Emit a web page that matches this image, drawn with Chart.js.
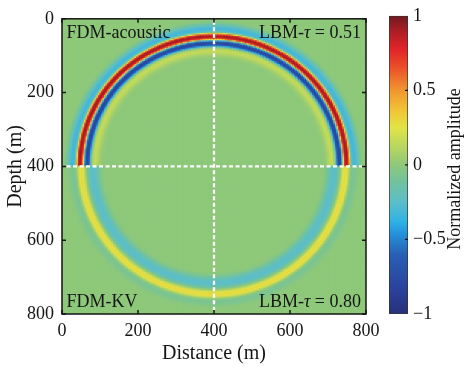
<!DOCTYPE html>
<html><head><meta charset="utf-8">
<script src="https://cdn.jsdelivr.net/npm/chart.js@4.4.1/dist/chart.umd.min.js"></script>
<style>
html,body{margin:0;padding:0;background:#fff;}
#wrap{position:relative;width:474px;height:366px;}
canvas{position:absolute;left:0;top:0;}
</style></head><body>
<div id="wrap"><canvas id="main" width="474" height="366"></canvas><canvas id="cbar" width="474" height="366"></canvas></div>
<script>
// ---- data ----
const xTicks = [0, 200, 400, 600, 800];
const yTicks = [0, 200, 400, 600, 800];
const cbTicks = [-1, -0.5, 0, 0.5, 1];
const sourceX = 400;      // m
const sourceDepth = 400;  // m
const ringRadius = [288,292,296,300,304,308,312,316,320,324,328,332,336,340,344,348,352,356,360,364,368,372,376,380,384,388,392,396];
// upper half: FDM-acoustic / LBM-tau=0.51
const ampUpper   = [0,0.01,0.03,0.06,0.10,0.14,0.16,0.12,0.00,-0.35,-0.70,-0.80,-0.72,-0.20,0.62,0.88,0.92,0.75,0.15,-0.24,-0.32,-0.32,-0.28,-0.20,-0.12,-0.06,-0.02,0];
// lower half: FDM-KV / LBM-tau=0.80
const ampLower   = [0,-0.02,-0.05,-0.09,-0.14,-0.19,-0.23,-0.25,-0.25,-0.22,-0.15,-0.06,0.05,0.17,0.27,0.30,0.25,0.13,0.01,-0.06,-0.08,-0.07,-0.05,-0.03,-0.01,0,0,0];
const vLine = [{x:400, y:5}, {x:400, y:790}];
const hLine = [{x:12, y:400}, {x:790, y:400}];
const panelLabels = ['FDM-acoustic', 'LBM-τ = 0.51', 'FDM-KV', 'LBM-τ = 0.80'];
const cellSize = 4; // m

// ---- colour map ----
const cmapValues = [-1,-0.8,-0.6,-0.45,-0.38,-0.25,-0.12,0,0.12,0.25,0.35,0.5,0.65,0.78,0.9,1];
const cmapColors = ['#28307a','#2a46a0','#2860b4','#2496dc','#30b2e6','#5cbec8','#70c2a0','#8ec87a','#b8d660','#e2e446','#f0c838','#f09630','#ec5028','#e02428','#aa1e24','#6e1a20'];
const hex = h => [parseInt(h.slice(1,3),16), parseInt(h.slice(3,5),16), parseInt(h.slice(5,7),16)];
const cmapRGB = cmapColors.map(hex);
function colorFor(v){
  v = Math.max(-1, Math.min(1, v));
  let i = 0;
  while (i < cmapValues.length - 2 && v > cmapValues[i+1]) i++;
  const t = (v - cmapValues[i]) / (cmapValues[i+1] - cmapValues[i]);
  const a = cmapRGB[i], b = cmapRGB[i+1];
  return 'rgb(' + [0,1,2].map(k => Math.round(a[k] + (b[k]-a[k]) * t)).join(',') + ')';
}
function profileAt(prof, r){
  if (r <= ringRadius[0] || r >= ringRadius[ringRadius.length-1]) return 0;
  let i = 0;
  while (ringRadius[i+1] < r) i++;
  const t = (r - ringRadius[i]) / (ringRadius[i+1] - ringRadius[i]);
  return prof[i] + (prof[i+1] - prof[i]) * t;
}

// build cell table from the radial profiles
const cells = [], cellColors = [];
const colorCache = {};
for (let xv = cellSize/2; xv < 800; xv += cellSize){
  for (let yv = cellSize/2; yv < 800; yv += cellSize){
    const r = Math.hypot(xv - sourceX, yv - sourceDepth);
    const v = profileAt(yv < sourceDepth ? ampUpper : ampLower, r);
    const key = Math.round(v * 200);
    if (!(key in colorCache)) colorCache[key] = colorFor(key / 200);
    cells.push({x: xv, y: yv});
    cellColors.push(colorCache[key]);
  }
}

const FONT = "'Liberation Serif', 'Times New Roman', serif";
const INK = '#151515';

function drawRich(ctx, text, x, y, align){
  const parts = text.split(/(τ)/).filter(s => s.length);
  const fonts = parts.map(p => (p === 'τ' ? 'italic ' : '') + '18px ' + FONT);
  let total = 0;
  const widths = parts.map((p, i) => { ctx.font = fonts[i]; const w = ctx.measureText(p).width; total += w; return w; });
  let cx = align === 'right' ? x - total : x;
  ctx.textAlign = 'left'; ctx.textBaseline = 'alphabetic'; ctx.fillStyle = INK;
  parts.forEach((p, i) => { ctx.font = fonts[i]; ctx.fillText(p, cx, y); cx += widths[i]; });
}

const framePlugin = {
  id: 'frame',
  afterDatasetsDraw(chart){
    const {ctx, chartArea: a, scales: {x, y}} = chart;
    ctx.save();
    ctx.strokeStyle = INK; ctx.lineWidth = 1.5;
    ctx.beginPath();
    xTicks.forEach(v => { const px = x.getPixelForValue(v);
      ctx.moveTo(px, a.bottom); ctx.lineTo(px, a.bottom - 4);
      ctx.moveTo(px, a.top); ctx.lineTo(px, a.top + 4); });
    yTicks.forEach(v => { const py = y.getPixelForValue(v);
      ctx.moveTo(a.left, py); ctx.lineTo(a.left + 4, py);
      ctx.moveTo(a.right, py); ctx.lineTo(a.right - 4, py); });
    ctx.stroke();
    ctx.strokeRect(a.left, a.top, a.right - a.left, a.bottom - a.top);
    drawRich(ctx, panelLabels[0], a.left + 4.5, a.top + 19.5, 'left');
    drawRich(ctx, panelLabels[1], a.right - 5, a.top + 19.5, 'right');
    drawRich(ctx, panelLabels[2], a.left + 4.5, a.bottom - 7, 'left');
    drawRich(ctx, panelLabels[3], a.right - 5, a.bottom - 7, 'right');
    ctx.restore();
  }
};

new Chart(document.getElementById('main'), {
  type: 'scatter',
  data: { datasets: [
    { order: 2, data: cells, backgroundColor: cellColors, pointStyle: 'rect', pointRadius: 1.9, pointHoverRadius: 1.9, borderWidth: 0, pointBorderWidth: 0 },
    { order: 0, type: 'line', data: vLine, borderColor: '#ffffff', borderWidth: 2.3, borderDash: [4, 2.5], pointRadius: 0, showLine: true, fill: false },
    { order: 0, type: 'line', data: hLine, borderColor: '#ffffff', borderWidth: 2.3, borderDash: [4, 2.5], pointRadius: 0, showLine: true, fill: false }
  ]},
  options: {
    responsive: false, animation: false, events: [], devicePixelRatio: 1,
    layout: { padding: { left: 0, top: 11, right: 108, bottom: 0 } },
    plugins: { legend: { display: false }, tooltip: { enabled: false } },
    scales: {
      x: { type: 'linear', min: 0, max: 800, position: 'bottom',
        afterBuildTicks: s => { s.ticks = xTicks.map(v => ({ value: v })); },
        ticks: { font: { family: FONT, size: 18 }, color: INK, padding: 6, maxRotation: 0, autoSkip: false },
        grid: { display: false, drawTicks: false }, border: { display: false },
        title: { display: true, text: 'Distance (m)', font: { family: FONT, size: 20 }, color: INK, padding: { top: 0, bottom: 0 } },
        afterFit: s => { s.height = 52; } },
      y: { type: 'linear', min: 0, max: 800, reverse: true, position: 'left',
        afterBuildTicks: s => { s.ticks = yTicks.map(v => ({ value: v })); },
        ticks: { font: { family: FONT, size: 18 }, color: INK, padding: 8, autoSkip: false },
        grid: { display: false, drawTicks: false }, border: { display: false },
        title: { display: true, text: 'Depth (m)', font: { family: FONT, size: 20 }, color: INK, padding: { top: 4, bottom: 0 } },
        afterFit: s => { s.width = 62; } }
    }
  },
  plugins: [framePlugin]
});

// ---- colour bar ----
const cbPlugin = {
  id: 'cbdeco',
  afterDatasetsDraw(chart){
    const {ctx, chartArea: a, scales: {y}} = chart;
    ctx.save();
    ctx.strokeStyle = INK; ctx.lineWidth = 1.2;
    ctx.beginPath();
    cbTicks.slice(1, -1).forEach(v => { const py = y.getPixelForValue(v); ctx.moveTo(a.right, py); ctx.lineTo(a.right - 3, py); });
    ctx.stroke();
    ctx.translate(a.right + 47, 169);
    ctx.rotate(-Math.PI / 2);
    ctx.font = '18px ' + FONT; ctx.fillStyle = INK; ctx.textAlign = 'center'; ctx.textBaseline = 'middle';
    ctx.fillText('Normalized amplitude', 0, 0);
    ctx.restore();
  }
};

new Chart(document.getElementById('cbar'), {
  type: 'bar',
  data: { labels: ['amp'], datasets: [{
    data: [[cbTicks[0], cbTicks[cbTicks.length - 1]]],
    backgroundColor: (c) => {
      const ch = c.chart; if (!ch.chartArea) return 'transparent';
      const ys = ch.scales.y;
      const g = ch.ctx.createLinearGradient(0, ys.getPixelForValue(-1), 0, ys.getPixelForValue(1));
      cmapValues.forEach((v, i) => g.addColorStop((v + 1) / 2, cmapColors[i]));
      return g;
    },
    borderColor: '#333', borderWidth: 1, borderSkipped: false, barPercentage: 1, categoryPercentage: 1
  }]},
  options: {
    responsive: false, animation: false, events: [], devicePixelRatio: 1,
    layout: { padding: { left: 389, top: 11, right: 0, bottom: 52 } },
    plugins: { legend: { display: false }, tooltip: { enabled: false } },
    scales: {
      x: { display: false },
      y: { position: 'right', min: -1, max: 1,
        afterBuildTicks: s => { s.ticks = cbTicks.map(v => ({ value: v })); },
        ticks: { font: { family: FONT, size: 18 }, color: INK, padding: 5,
          callback: v => v === 0 ? '0' : (v < 0 ? '\u2212' : '') + Math.abs(v) },
        grid: { display: false, drawTicks: false }, border: { display: false },
        afterFit: s => { s.width = 66; } }
    }
  },
  plugins: [cbPlugin]
});
</script>
</body></html>
